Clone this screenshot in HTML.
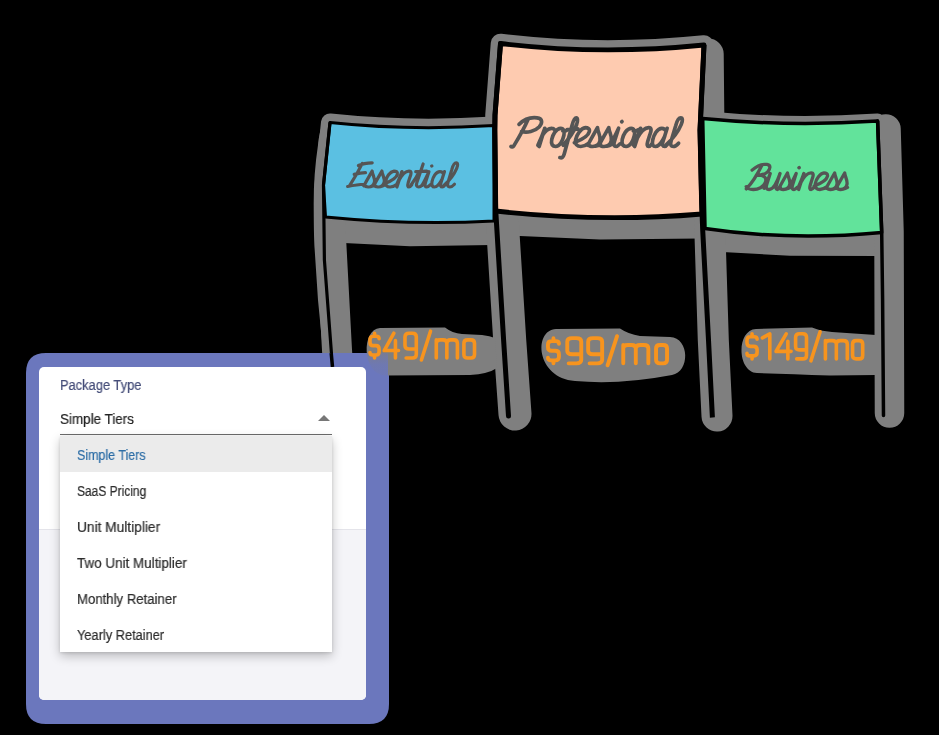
<!DOCTYPE html>
<html><head><meta charset="utf-8">
<style>
html,body{margin:0;padding:0;background:#000;width:939px;height:735px;overflow:hidden;}
body{position:relative;font-family:"Liberation Sans",sans-serif;}
#art{position:absolute;left:0;top:0;}
.card{position:absolute;left:39px;top:367px;width:327px;height:333px;background:#fff;border-radius:5px;overflow:hidden;}
.card .lower{position:absolute;left:0;top:162px;width:327px;height:171px;background:#f4f4f8;border-top:1px solid #e4e4ea;}
.t{position:absolute;font-size:14px;line-height:16px;white-space:nowrap;transform-origin:0 0;will-change:transform;-webkit-text-stroke:0.2px currentColor;}
.lbl{left:21px;top:10.2px;color:#444c78;transform:scaleX(0.92);}
.val{left:21px;top:44.4px;color:#222;transform:scaleX(0.96);}
.uline{position:absolute;left:21px;top:67px;width:272px;height:1px;background:#6b6b6b;}
.tri{position:absolute;left:279px;top:48px;width:0;height:0;border-left:6px solid transparent;border-right:6px solid transparent;border-bottom:6px solid #777;}
.menu{position:absolute;left:60px;top:436px;width:272px;height:216px;background:#fff;box-shadow:0 4px 10px rgba(0,0,0,0.24),0 1px 3px rgba(0,0,0,0.12);}
.item{position:relative;height:36px;}
.item .t{left:17px;top:11.2px;color:#2b2b2b;}
.item.sel{background:#ebebeb;}
.item.sel .t{color:#2c6da6;}
</style></head>
<body>
<svg id="art" width="939" height="735" viewBox="0 0 939 735">
  <g fill="#7f7f7f" stroke="#7f7f7f" stroke-linejoin="round" stroke-linecap="round">
    <path d="M330 122.5 Q410 131 494 125.5 L494 221 Q410 225.4 325.5 217 L323.5 185 Z" stroke-width="18"/>
    <path d="M500.5 43.5 Q600 55.5 704 45 L700 130 L701.6 200 L702 214 Q600 222.7 495.7 211 L494.8 130 L495 115 Z" stroke-width="19.5"/>
    <path d="M702.7 118.5 Q790 127 877.6 121 L881.7 232.5 Q790 241.3 705 228.5 Z" stroke-width="15"/>
    <path d="M320 215 L492 215 L492 245 L410 246.2 L344 243 L340 243 Z" stroke-width="0"/>
    <path d="M496 210 L700 210 L700 238.5 L600 239.6 L520 236 L515 236 Z" stroke-width="0"/>
    <path d="M703 225 L880 225 L880 256 L790 255.8 L727 252.2 L720 252.2 Z" stroke-width="0"/>
    <path stroke-width="0" d="M334 115 C324 115 320 128 318 145 C315 165 313.6 185 313.7 205 C313.8 225 314 240 314.7 250 L318 300 L322.9 350 L340 350 L340 115 Z"/>
    <g fill="none">
    <path d="M329 200 L337 350 L339 380" stroke-width="30"/>
    <path d="M502.5 225 L509.7 340 L515 414" stroke-width="33"/>
    <path d="M708.2 54 L710 235 L713.3 340 L717 416" stroke-width="31"/>
    <path d="M886 129 L889 232 L889.5 413" stroke-width="29.5"/>
    </g>
    <path stroke-width="0" d="M556 329 L620 328.5 Q628 334 640 336 L670 337 C690 338 690 372 672 375 Q620 385 575 381 C536 378 533 330 556 329 Z"/>
    <path stroke-width="0" d="M756 329 L812 327.5 Q820 331 832 332 L876 335 L876 375 L830 375.5 Q790 374 757 373 C737 372 736 330 756 329 Z"/>
  </g>
  <path d="M330 122.5 Q410 131 494 125.5 L494 221 Q410 225.4 325.5 217 L323.5 185 Z" fill="#5bc0e2" stroke="#000" stroke-width="3" stroke-linejoin="round"/>
  <path d="M500.5 43.5 Q600 55.5 704 45 L700 130 L701.6 200 L702 214 Q600 222.7 495.7 211 L494.8 130 L495 115 Z" fill="#fecbb0" stroke="#000" stroke-width="4.8" stroke-linejoin="round"/>
  <path d="M702.7 118.5 Q790 127 877.6 121 L881.7 232.5 Q790 241.3 705 228.5 Z" fill="#62e39b" stroke="#000" stroke-width="3.5" stroke-linejoin="round"/>
  <g stroke="#000" fill="none" stroke-linejoin="round">
    <path d="M330 122.5 L323.5 185 L324.4 260 L332.5 367" stroke-width="3.2"/>
    <path d="M500.5 43.5 L495 115 L494.8 130 L495.7 210 L503.6 340 L508.5 416" stroke-width="5" stroke-linecap="round"/>
    <path d="M704 45 L700 130 L701.6 200 L702.7 230 L708.5 340 L712.4 417.5" stroke-width="5"/>
    <path d="M877.6 121 L881.7 232 L882.6 300 L883.5 415.5" stroke-width="3.5" stroke-linecap="round"/>
  </g>
  <g fill="none" stroke="#555" stroke-linecap="round" stroke-linejoin="round">
<path vector-effect="non-scaling-stroke" transform="translate(347.5 187) skewX(-12) scale(1.15 1.1)" stroke-width="3.2" d="M 5.5 -19.5 C 9 -21.5 13 -22 17 -22 M 8.5 -21.5 C 6.5 -14 4 -7 1.5 -1 M 3.5 -11.5 C 7 -12.5 10 -13 13 -13 M 0 -0.5 C 5 -1.5 9 -2.2 14 -2.5 M 14 -1 C 15.5 -6 17 -10 18.5 -14.5 C 19.5 -11 22.5 -8 22.5 -4.5 C 22.5 -1 20 0 18 0 C 16.5 0 15.2 -0.5 14.5 -1.5 M 20 -0.3 C 21.5 -0.5 22.5 -1 23.5 -1.8 M 22.5 -1 C 24 -6 25.5 -10 27 -14.5 C 28 -11 31 -8 31 -4.5 C 31 -1 28.5 0 26.5 0 C 25 0 23.7 -0.5 23 -1.5 M 28.5 -0.3 C 30 -0.5 31 -1 32 -1.8 M 31.5 -3 C 36 -5 41 -8 41 -11.5 C 41 -14 39 -14.5 37.5 -14.5 C 34 -14 32 -9 32 -5.5 C 32 -1.5 34.5 0 37 0 C 39.5 0 41 -1 42.5 -2.5 M 42 -1 C 43 -5 44 -10 44.5 -14 L 43 0 M 43.5 -6 C 45 -11 47.5 -14.5 50.5 -14.5 C 53 -14.5 53 -12 52.5 -9 L 52 -4 C 51.8 -1 52.5 0 53.5 0 C 54.5 0 55 -1 55.5 -2 M 55 -2 C 57 -6 58.5 -10 59.5 -14 M 61.5 -21 L 59.5 -4 C 59.2 -1 60.5 0 62 0 C 63.2 0 64 -1 64.8 -2 M 56.5 -14 L 66 -14.5 M 64.5 -1.5 C 66 -6 67 -10 68 -14 L 67 -4 C 66.7 -1 67.7 0 69 0 C 70 0 70.7 -1 71.5 -2 M 69.3 -19 L 69.5 -19.2 M 81 -12 C 80 -13.5 79 -14 77.5 -14 C 74 -14 72.5 -9 72.5 -5 C 72.5 -1.5 74 0 75.5 0 C 78 0 80 -4 81 -8 M 81.5 -14 L 80.5 -4 C 80.2 -1 81.2 0 82.5 0 C 83.5 0 84 -1 84.5 -2 M 83.5 -1.5 C 87.5 -6 90.5 -12 91.5 -17 C 92.1 -20 91.5 -22 90 -22 C 88.3 -22 87.7 -19.5 87.5 -16 L 86.5 -4 C 86.3 -1 87.5 0 89 0 C 90.5 0 91.5 -1 92.5 -2.5"/>
<path vector-effect="non-scaling-stroke" transform="translate(511 146.5) skewX(-12) scale(1.33 1.3)" stroke-width="3.7" d="M 8.5 -21 C 7 -14 4.5 -7 2 -0.5 C 1.5 0.5 0.5 0.5 0 0 M 2.5 -17 C 6 -21.5 11 -22.5 15 -22 C 19.5 -21.5 20 -18 18 -15 C 15.5 -11.5 10 -10.5 5.5 -11.5 M 20 -1 C 21 -5 22 -10 22.5 -14 L 21.2 0 M 21.8 -8.5 C 23.5 -12.5 25.5 -14.2 28 -14 C 29 -14 29.5 -13.5 30 -13 M 34.5 -14 C 31 -14 29.5 -9 29.5 -5.5 C 29.5 -1.5 31.5 0 33.5 0 C 36.5 0 38 -4.5 38 -8.5 C 38 -12 36.5 -14 34.5 -14 M 36.5 -12 C 38 -11.5 39 -12 40 -13 M 39 -1 C 43 -7 45 -12 45.8 -16.5 C 46.3 -20 45.5 -22 44.5 -22 C 43.2 -22 42.7 -20 42.5 -16 L 41.2 6 C 41 8.5 40 9 38.5 8.5 M 39.5 -13 L 47.5 -13.5 M 47 -3 C 51.5 -5 56.5 -8 56.5 -11.5 C 56.5 -14 54.5 -14.5 53 -14.5 C 49.5 -14 47.5 -9 47.5 -5.5 C 47.5 -1.5 50 0 52.5 0 C 55 0 56.5 -1 58 -2.5 M 57.5 -1 C 59 -6 60.5 -10 62 -14.5 C 63 -11 66 -8 66 -4.5 C 66 -1 63.5 0 61.5 0 C 60 0 58.7 -0.5 58 -1.5 M 63.5 -0.3 C 65 -0.5 66 -1 67 -1.8 M 66 -1 C 67.5 -6 69 -10 70.5 -14.5 C 71.5 -11 74.5 -8 74.5 -4.5 C 74.5 -1 72 0 70 0 C 68.5 0 67.2 -0.5 66.5 -1.5 M 72 -0.3 C 73.5 -0.5 74.5 -1 75.5 -1.8 M 74.5 -1.5 C 76 -6 77 -10 78 -14 L 77 -4 C 76.7 -1 77.7 0 79 0 C 80 0 80.7 -1 81.5 -2 M 79.3 -19 L 79.5 -19.2 M 87.5 -14 C 84 -14 82.5 -9 82.5 -5.5 C 82.5 -1.5 84.5 0 86.5 0 C 89.5 0 91 -4.5 91 -8.5 C 91 -12 89.5 -14 87.5 -14 M 89.5 -12 C 91 -11.5 92 -12 93 -13 M 92 -1 C 93 -5 94 -10 94.5 -14 L 93 0 M 93.5 -6 C 95 -11 97.5 -14.5 100.5 -14.5 C 103 -14.5 103 -12 102.5 -9 L 102 -4 C 101.8 -1 102.5 0 103.5 0 C 104.5 0 105 -1 105.5 -2 M 114 -12 C 113 -13.5 112 -14 110.5 -14 C 107 -14 105.5 -9 105.5 -5 C 105.5 -1.5 107 0 108.5 0 C 111 0 113 -4 114 -8 M 114.5 -14 L 113.5 -4 C 113.2 -1 114.2 0 115.5 0 C 116.5 0 117 -1 117.5 -2 M 116.5 -1.5 C 120.5 -6 123.5 -12 124.5 -17 C 125.1 -20 124.5 -22 123 -22 C 121.3 -22 120.7 -19.5 120.5 -16 L 119.5 -4 C 119.3 -1 120.5 0 122 0 C 123.5 0 124.5 -1 125.5 -2.5"/>
<path vector-effect="non-scaling-stroke" transform="translate(745 189.5) skewX(-12) scale(1.18 1.14)" stroke-width="3.3" d="M 10 -21.5 C 8 -14 5 -6 1 -0.5 M 2.5 -17 C 6 -21 10.5 -22.5 14 -22 C 17.5 -21.5 18 -18.5 16 -15.5 C 14 -13 10.5 -12.5 7 -12.5 C 13 -12.8 16.5 -11 16 -6.5 C 15.5 -2 11 0 7 0 C 3.5 0 1.5 -1 0.5 -2.5 M 16 -1 C 17 -5 18 -10 18.5 -14 L 17.5 -4.5 C 17.2 -1 18.5 0 20.5 0 C 24 0 25.8 -6 26.8 -14 L 25.8 -4 C 25.6 -1 26.5 0 27.5 0 C 28.5 0 29 -1 29.5 -2 M 28.5 -1 C 30 -6 31.5 -10 33 -14.5 C 34 -11 37 -8 37 -4.5 C 37 -1 34.5 0 32.5 0 C 31 0 29.7 -0.5 29 -1.5 M 34.5 -0.3 C 36 -0.5 37 -1 38 -1.8 M 37 -1.5 C 38.5 -6 39.5 -10 40.5 -14 L 39.5 -4 C 39.2 -1 40.2 0 41.5 0 C 42.5 0 43.2 -1 44 -2 M 41.8 -19 L 42 -19.2 M 44.5 -1 C 45.5 -5 46.5 -10 47 -14 L 45.5 0 M 46 -6 C 47.5 -11 50 -14.5 53 -14.5 C 55.5 -14.5 55.5 -12 55 -9 L 54.5 -4 C 54.3 -1 55 0 56 0 C 57 0 57.5 -1 58 -2 M 58 -3 C 62.5 -5 67.5 -8 67.5 -11.5 C 67.5 -14 65.5 -14.5 64 -14.5 C 60.5 -14 58.5 -9 58.5 -5.5 C 58.5 -1.5 61 0 63.5 0 C 66 0 67.5 -1 69 -2.5 M 68.5 -1 C 70 -6 71.5 -10 73 -14.5 C 74 -11 77 -8 77 -4.5 C 77 -1 74.5 0 72.5 0 C 71 0 69.7 -0.5 69 -1.5 M 74.5 -0.3 C 76 -0.5 77 -1 78 -1.8 M 77 -1 C 78.5 -6 80 -10 81.5 -14.5 C 82.5 -11 85.5 -8 85.5 -4.5 C 85.5 -1 83 0 81 0 C 79.5 0 78.2 -0.5 77.5 -1.5 M 83 -0.3 C 84.5 -0.5 85.5 -1 86.5 -1.8"/>
  </g>
  <path d="M46 353 L389 353 L389 704 Q389 724 369 724 L46 724 Q26 724 26 704 L26 373 Q26 353 46 353 Z" fill="#6b77bd"/>
  <path d="M331.2 353 L332.5 367" stroke="#000" stroke-width="3.5"/>
  <path fill="#7f7f7f" d="M380 328 L445 327.5 Q452 333 462 334 L482 335 Q490 336 495 338 L497 368 Q488 374 470 375 L385 375.5 C362 374 361 329 380 328 Z"/>
  <defs><linearGradient id="pg" x1="0" y1="0" x2="0" y2="1"><stop offset="0" stop-color="#6b77bd" stop-opacity="0.35"/><stop offset="0.5" stop-color="#6b77bd" stop-opacity="0.8"/><stop offset="1" stop-color="#6b77bd" stop-opacity="0.9"/></linearGradient></defs>
  <rect x="350" y="353" width="38" height="23" fill="url(#pg)"/>
  <g fill="none" stroke="#f7941e" stroke-linecap="round" stroke-linejoin="round">
<path vector-effect="non-scaling-stroke" transform="matrix(0.2275 0 0 0.2480 370.00 333.20)" stroke-width="3.6" d="M40 22 Q40 12 28 12 L13 12 Q0 12 0 26 L0 36 Q0 50 14 50 L26 50 Q40 50 40 64 L40 74 Q40 88 27 88 L12 88 Q0 88 0 78 M20 0 L20 12 M20 88 L20 100"/>
<path vector-effect="non-scaling-stroke" transform="matrix(0.2554 0 0 0.2480 384.20 333.20)" stroke-width="3.6" d="M38 0 L0 70 L56 70 M44 30 L44 100"/>
<path vector-effect="non-scaling-stroke" transform="matrix(0.2825 0 0 0.2480 405.00 333.20)" stroke-width="3.6" d="M40 64 L14 64 Q0 64 0 50 L0 14 Q0 0 14 0 L26 0 Q40 0 40 14 L40 86 Q40 100 26 100 L4 100"/>
<path vector-effect="non-scaling-stroke" transform="matrix(0.2528 0 0 0.2480 421.40 333.20)" stroke-width="3.6" d="M36 -8 L0 108"/>
<path vector-effect="non-scaling-stroke" transform="matrix(0.2637 0 0 0.2480 436.30 333.20)" stroke-width="3.6" d="M0 27 L0 100 M0 41 Q0 27 14 27 L26 27 Q40 27 40 41 L40 100 M40 41 Q40 27 54 27 L66 27 Q80 27 80 41 L80 100"/>
<path vector-effect="non-scaling-stroke" transform="matrix(0.2650 0 0 0.2480 463.90 333.20)" stroke-width="3.6" d="M14 27 L26 27 Q40 27 40 41 L40 86 Q40 100 26 100 L14 100 Q0 100 0 86 L0 41 Q0 27 14 27 Z"/>
<path vector-effect="non-scaling-stroke" transform="matrix(0.2750 0 0 0.2520 547.95 338.15)" stroke-width="3.9" d="M40 22 Q40 12 28 12 L13 12 Q0 12 0 26 L0 36 Q0 50 14 50 L26 50 Q40 50 40 64 L40 74 Q40 88 27 88 L12 88 Q0 88 0 78 M20 0 L20 12 M20 88 L20 100"/>
<path vector-effect="non-scaling-stroke" transform="matrix(0.3500 0 0 0.2520 567.25 338.15)" stroke-width="3.9" d="M40 64 L14 64 Q0 64 0 50 L0 14 Q0 0 14 0 L26 0 Q40 0 40 14 L40 86 Q40 100 26 100 L4 100"/>
<path vector-effect="non-scaling-stroke" transform="matrix(0.3500 0 0 0.2520 588.15 338.15)" stroke-width="3.9" d="M40 64 L14 64 Q0 64 0 50 L0 14 Q0 0 14 0 L26 0 Q40 0 40 14 L40 86 Q40 100 26 100 L4 100"/>
<path vector-effect="non-scaling-stroke" transform="matrix(0.2639 0 0 0.2520 607.55 338.15)" stroke-width="3.9" d="M36 -8 L0 108"/>
<path vector-effect="non-scaling-stroke" transform="matrix(0.3138 0 0 0.2520 623.25 338.15)" stroke-width="3.9" d="M0 27 L0 100 M0 41 Q0 27 14 27 L26 27 Q40 27 40 41 L40 100 M40 41 Q40 27 54 27 L66 27 Q80 27 80 41 L80 100"/>
<path vector-effect="non-scaling-stroke" transform="matrix(0.2750 0 0 0.2520 656.05 338.15)" stroke-width="3.9" d="M14 27 L26 27 Q40 27 40 41 L40 86 Q40 100 26 100 L14 100 Q0 100 0 86 L0 41 Q0 27 14 27 Z"/>
<path vector-effect="non-scaling-stroke" transform="matrix(0.2525 0 0 0.2510 747.00 333.80)" stroke-width="3.6" d="M40 22 Q40 12 28 12 L13 12 Q0 12 0 26 L0 36 Q0 50 14 50 L26 50 Q40 50 40 64 L40 74 Q40 88 27 88 L12 88 Q0 88 0 78 M20 0 L20 12 M20 88 L20 100"/>
<path vector-effect="non-scaling-stroke" transform="matrix(0.2643 0 0 0.2510 762.40 333.80)" stroke-width="3.6" d="M0 16 L28 0 L28 100"/>
<path vector-effect="non-scaling-stroke" transform="matrix(0.2696 0 0 0.2510 776.00 333.80)" stroke-width="3.6" d="M38 0 L0 70 L56 70 M44 30 L44 100"/>
<path vector-effect="non-scaling-stroke" transform="matrix(0.2725 0 0 0.2510 795.60 333.80)" stroke-width="3.6" d="M40 64 L14 64 Q0 64 0 50 L0 14 Q0 0 14 0 L26 0 Q40 0 40 14 L40 86 Q40 100 26 100 L4 100"/>
<path vector-effect="non-scaling-stroke" transform="matrix(0.2556 0 0 0.2510 810.90 333.80)" stroke-width="3.6" d="M36 -8 L0 108"/>
<path vector-effect="non-scaling-stroke" transform="matrix(0.2737 0 0 0.2510 825.40 333.80)" stroke-width="3.6" d="M0 27 L0 100 M0 41 Q0 27 14 27 L26 27 Q40 27 40 41 L40 100 M40 41 Q40 27 54 27 L66 27 Q80 27 80 41 L80 100"/>
<path vector-effect="non-scaling-stroke" transform="matrix(0.2525 0 0 0.2510 852.60 333.80)" stroke-width="3.6" d="M14 27 L26 27 Q40 27 40 41 L40 86 Q40 100 26 100 L14 100 Q0 100 0 86 L0 41 Q0 27 14 27 Z"/>
  </g>
</svg>
<div class="card">
  <div class="lower"></div>
  <div class="t lbl">Package Type</div>
  <div class="t val">Simple Tiers</div>
  <div class="tri"></div>
  <div class="uline"></div>
</div>
<div class="menu">
  <div class="item sel"><span class="t" style="transform:scaleX(0.89)">Simple Tiers</span></div>
  <div class="item"><span class="t" style="transform:scaleX(0.855)">SaaS Pricing</span></div>
  <div class="item"><span class="t" style="transform:scaleX(0.98)">Unit Multiplier</span></div>
  <div class="item"><span class="t" style="transform:scaleX(0.96)">Two Unit Multiplier</span></div>
  <div class="item"><span class="t" style="transform:scaleX(0.94)">Monthly Retainer</span></div>
  <div class="item"><span class="t" style="transform:scaleX(0.915)">Yearly Retainer</span></div>
</div>
</body></html>
